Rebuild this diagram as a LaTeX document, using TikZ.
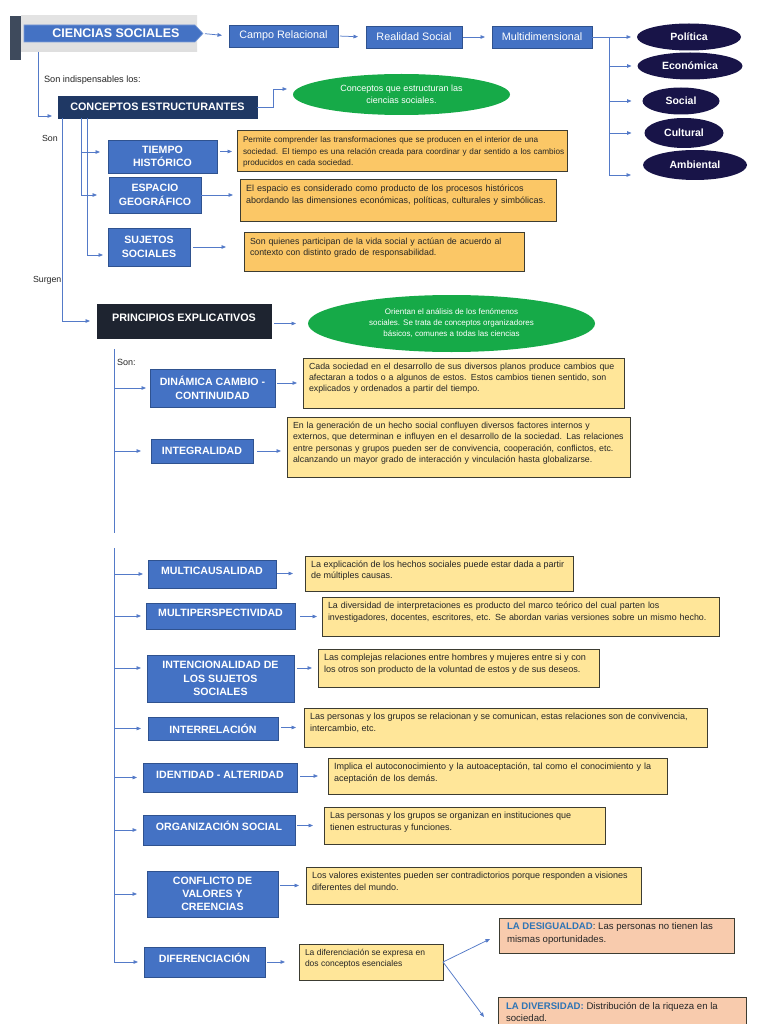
\documentclass[tikz,border=0pt]{standalone}
\usepackage{fontspec}
\setmainfont{Liberation Sans}
\usetikzlibrary{arrows.meta,calc,shapes.geometric}
\definecolor{bxblue}{RGB}{68,114,196}
\definecolor{bxblueb}{RGB}{47,82,143}
\definecolor{connc}{RGB}{84,122,200}
\definecolor{navyb}{RGB}{31,56,100}
\definecolor{nearblack}{RGB}{30,36,48}
\definecolor{ellnavy}{RGB}{24,20,72}
\definecolor{grn}{RGB}{22,170,72}
\definecolor{orng}{RGB}{251,199,102}
\definecolor{ylw}{RGB}{255,230,153}
\definecolor{peach}{RGB}{248,203,173}
\definecolor{tborder}{RGB}{60,60,50}
\definecolor{lblue}{RGB}{46,116,181}
\definecolor{darkbar}{RGB}{62,74,92}
\newcommand{\jline}[1]{\makebox[\linewidth][s]{#1}}
\begin{document}
\begin{tikzpicture}[x=1pt,y=-1pt,
  every node/.style={inner sep=0pt, outer sep=0pt},
  sz/.style 2 args={minimum width=#1pt, minimum height=#2pt, anchor=north west},
  ttl/.style={fill=bxblue, draw=bxblueb, line width=0.6pt, text=white, font=\fontsize{10.6}{13.3}\selectfont\bfseries, align=center},
  one/.style={text height=7.6pt, text depth=6pt},
  toprow/.style={fill=bxblue, draw=bxblueb, line width=0.6pt, text=white, font=\fontsize{10.8}{12}\selectfont},
  tbox/.style={draw=tborder, line width=1pt},
  ob/.style={tbox, fill=orng},
  yb/.style={tbox, fill=ylw},
  pb/.style={tbox, fill=peach},
  txt/.style 2 args={anchor=north west, inner xsep=6pt, inner ysep=5pt, align=left, text=black!85, font=\fontsize{#1}{#2}\selectfont},
  ell/.style={ellipse, fill=ellnavy, text=white, font=\fontsize{10.5}{12}\selectfont\bfseries},
  gell/.style={ellipse, fill=grn, text=white, align=center},
  ln/.style={draw=connc, line width=0.75pt},
  arr/.style={ln, -{Triangle[length=4.5pt,width=3.6pt]}},
  lab/.style={font=\fontsize{8.8}{11}\selectfont, text=black!85, anchor=west},
]
\useasboundingbox (0,0) rectangle (768,1024);
\fill[white] (0,0) rectangle (768,1024);

% ---- header ----
\fill[darkbar] (10,16) rectangle (21,60);
\node[sz={176}{36}, top color=gray!22, middle color=gray!6, bottom color=gray!25] (cbg) at (21,16) {};
\filldraw[fill=bxblue, draw=bxblue!70!white, line width=0.6pt] (24,25) -- (195,25) -- (203,33.5) -- (195,42) -- (24,42) -- cycle;
\node[font=\fontsize{12.5}{14}\selectfont\bfseries, text=white, minimum width=179pt, minimum height=17pt] (ciencias) at (113.5,33.5) {\hspace*{5pt}CIENCIAS SOCIALES};

\node[toprow, sz={109}{22}] (campo) at (229,25) {Campo Relacional};
\node[toprow, sz={96}{22}] (realidad) at (366,26) {Realidad Social};
\node[toprow, sz={100}{22}] (multi) at (492,26) {Multidimensional};

\node[ell, minimum width=104pt, minimum height=27pt] (politica) at (689,37) {Política};
\node[ell, minimum width=105pt, minimum height=27pt] (economica) at (690,66) {Económica};
\node[ell, minimum width=77pt, minimum height=27pt] (social) at (681,101) {Social};
\node[ell, minimum width=79pt, minimum height=30pt] (cultural) at (684,133) {Cultural};
\node[ell, minimum width=104pt, minimum height=30pt] (ambiental) at (695,165) {Ambiental};

\draw[arr, shorten <=2pt, shorten >=7pt] (ciencias.east) -- (campo.west);
\draw[arr, shorten <=2pt, shorten >=8pt] (campo.east) -- (realidad.west);
\draw[arr, shorten <=1pt, shorten >=7pt] (realidad.east) -- (multi.west);

\coordinate (br) at (609,37);
\coordinate (ambin) at ($(ambiental.west)+(0,10)$);
\draw[arr, shorten >=6pt] (multi.east) -- (politica.west);
\draw[ln] (br) -- (br |- ambin);
\draw[arr, shorten >=6pt] (br |- economica.west) -- (economica.west);
\draw[arr, shorten >=11pt] (br |- social.west) -- (social.west);
\draw[arr, shorten >=13pt] (br |- cultural.west) -- (cultural.west);
\draw[arr, shorten >=12pt] (br |- ambin) -- (ambin);

% ---- conceptos estructurantes ----
\node[lab, font=\fontsize{9.2}{11}\selectfont] (lsonind) at (44,80) {Son indispensables los:};
\node[sz={199}{22}, fill=navyb, draw=navyb, text=white, font=\fontsize{10.8}{12}\selectfont\bfseries] (conceptos) at (58,96) {CONCEPTOS ESTRUCTURANTES};
\node[gell, minimum width=217pt, minimum height=41pt, font=\fontsize{9}{11.5}\selectfont] (green1) at (401.5,94.5) {Conceptos que estructuran las\\ciencias sociales.};

\coordinate (cdown) at ($(cbg.south west)+(17,0)$);
\draw[arr, shorten >=6pt] (cdown) |- ($(conceptos.west)+(0,9)$);
\draw[arr, shorten >=6pt] (conceptos.east) -- ++(16,0) |- ($(green1.west)+(0,-5.5)$);

\node[lab] (lson) at (42,138) {Son};
\node[lab] (lsurgen) at (33,280) {Surgen};

\node[ttl, sz={109}{33}] (tiempo) at (108,140) {TIEMPO\\HISTÓRICO};
\node[ttl, sz={92}{36}] (espacio) at (109,177) {ESPACIO\\GEOGRÁFICO};
\node[ttl, sz={82}{38}] (sujetos) at (108,228) {SUJETOS\\SOCIALES};

\node[ob, sz={330}{41}] (t1) at (237,131) {};
\node[txt={8.2}{11.2}, inner ysep=6pt, text width=320pt] (t1x) at (t1.north west) {\jline{Permite comprender las transformaciones que se producen en el interior de una}\\\jline{sociedad. El tiempo es una relación creada para coordinar y dar sentido a los cambios}\\\mbox{producidos en cada sociedad.}};
\node[ob, sz={316}{42}] (t2) at (240,180) {};
\node[txt={9}{11.7}, text width=305pt] (t2x) at (t2.north west) {\jline{El espacio es considerado como producto de los procesos históricos}\\\mbox{abordando las dimensiones económicas, políticas, culturales y simbólicas.}};
\node[ob, sz={280}{38}] (t3) at (244,233) {};
\node[txt={8.8}{11.5}, text width=263pt] (t3x) at (t3.north west) {\jline{Son quienes participan de la vida social y actúan de acuerdo al}\\\mbox{contexto con distinto grado de responsabilidad.}};

\coordinate (v1) at ($(conceptos.south west)+(4,0)$);
\coordinate (v2) at ($(conceptos.south west)+(23,0)$);
\coordinate (v3) at ($(conceptos.south west)+(29,0)$);
\draw[arr, shorten >=8pt] (v2) |- ($(tiempo.west)+(0,-4.5)$);
\draw[arr, shorten >=12pt] (v2) |- (espacio.west);
\draw[arr, shorten >=5pt] (v3) |- ($(sujetos.west)+(0,8)$);
\draw[arr, shorten <=3pt, shorten >=5pt] (tiempo.east |- t1.west) -- (t1.west);
\draw[arr, shorten >=7pt] (espacio.east) -- (espacio.east -| t2.west);
\draw[arr, shorten <=3pt, shorten >=18pt] (sujetos.east) -- (sujetos.east -| t3.west);

% ---- principios explicativos ----
\node[sz={174}{34}, fill=nearblack, draw=nearblack, text=white, font=\fontsize{10.8}{12}\selectfont\bfseries, one] (principios) at (97,304) {PRINCIPIOS EXPLICATIVOS};
\node[gell, minimum width=287pt, minimum height=57pt, font=\fontsize{8}{11}\selectfont] (green2) at (451.5,323.5) {Orientan el análisis de los fenómenos\\sociales. Se trata de conceptos organizadores\\básicos, comunes a todas las ciencias};
\draw[arr, shorten >=7pt] (v1) |- (principios.west);
\draw[arr, shorten <=3pt, shorten >=12pt] (principios.east |- green2.west) -- (green2.west);

\node[lab, font=\fontsize{9}{11}\selectfont] (lson2) at (117,362) {Son:};
\coordinate (s1a) at (114,349);
\coordinate (s1b) at (114,533);
\draw[ln] (s1a) -- (s1b);

\node[ttl, sz={125}{38}] (din) at (150,369) {DINÁMICA CAMBIO -\\CONTINUIDAD};
\node[ttl, sz={102}{24}] (integ) at (151,439) {INTEGRALIDAD};
\node[yb, sz={321}{50}] (tdin) at (303,358) {};
\node[txt={8.8}{11.2}, text width=308pt] (tdinx) at (tdin.north west) {\jline{Cada sociedad en el desarrollo de sus diversos planos produce cambios que}\\\jline{afectaran a todos o a algunos de estos. Estos cambios tienen sentido, son}\\\mbox{explicados y ordenados a partir del tiempo.}};
\node[yb, sz={343}{60}] (tint) at (287,417) {};
\node[txt={8.8}{11.4}, text width=331pt] (tintx) at (tint.north west) {\jline{En la generación de un hecho social confluyen diversos factores internos y}\\\jline{externos, que determinan e influyen en el desarrollo de la sociedad. Las relaciones}\\\jline{entre personas y grupos pueden ser de convivencia, cooperación, conflictos, etc.}\\\mbox{alcanzando un mayor grado de interacción y vinculación hasta globalizarse.}};

\draw[arr, shorten >=4pt] (s1a |- din.west) -- (din.west);
\draw[arr, shorten >=10pt] (s1a |- integ.west) -- (integ.west);
\draw[arr, shorten <=2pt, shorten >=6pt] (din.east |- tdin.west) -- (tdin.west);
\draw[arr, shorten <=4pt, shorten >=6pt] (integ.east) -- (integ.east -| tint.west);

% ---- second column ----
\node[ttl, sz={128}{28}, one] (multic) at (148,560) {MULTICAUSALIDAD};
\node[ttl, sz={149}{26}, one] (multip) at (146,603) {MULTIPERSPECTIVIDAD};
\node[ttl, sz={147}{47}] (intenc) at (147,655) {INTENCIONALIDAD DE\\LOS SUJETOS\\SOCIALES};
\node[ttl, sz={130}{23}] (interr) at (148,717) {INTERRELACIÓN};
\node[ttl, sz={154}{29}, one] (ident) at (143,763) {IDENTIDAD - ALTERIDAD};
\node[ttl, sz={152}{30}, one] (organ) at (143,815) {ORGANIZACIÓN SOCIAL};
\node[ttl, sz={131}{46}] (confl) at (147,871) {CONFLICTO DE\\VALORES Y\\CREENCIAS};
\node[ttl, sz={121}{30}, one] (difer) at (144,947) {DIFERENCIACIÓN};

\node[yb, sz={268}{35}] (tmc) at (305,556) {};
\node[txt={9}{11.2}] (tmcx) at (tmc.north west) {La explicación de los hechos sociales puede estar dada a partir\\de múltiples causas.};
\node[yb, sz={397}{39}] (tmp) at (322,597) {};
\node[txt={8.9}{12}, text width=384pt] (tmpx) at (tmp.north west) {\jline{La diversidad de interpretaciones es producto del marco teórico del cual parten los}\\\mbox{investigadores, docentes, escritores, etc. Se abordan varias versiones sobre un mismo hecho.}};
\node[yb, sz={281}{38}] (tin) at (318,649) {};
\node[txt={9.1}{11.5}] (tinx) at (tin.north west) {Las complejas relaciones entre hombres y mujeres entre si y con\\los otros son producto de la voluntad de estos y de sus deseos.};
\node[yb, sz={403}{39}] (tir) at (304,708) {};
\node[txt={9}{11.5}] (tirx) at (tir.north west) {Las personas y los grupos se relacionan y se comunican, estas relaciones son de convivencia,\\intercambio, etc.};
\node[yb, sz={339}{36}] (tid) at (328,758) {};
\node[txt={9}{12}, text width=326pt] (tidx) at (tid.north west) {\jline{Implica el autoconocimiento y la autoaceptación, tal como el conocimiento y la}\\\mbox{aceptación de los demás.}};
\node[yb, sz={281}{37}] (tos) at (324,807) {};
\node[txt={9}{11.5}] (tosx) at (tos.north west) {Las personas y los grupos se organizan en instituciones que\\tienen estructuras y funciones.};
\node[yb, sz={335}{37}] (tcf) at (306,867) {};
\node[txt={9}{12}] (tcfx) at (tcf.north west) {Los valores existentes pueden ser contradictorios porque responden a visiones\\diferentes del mundo.};
\node[yb, sz={144}{36}] (tdf) at (299,944) {};
\node[txt={8.5}{11}] (tdfx) at (tdf.north west) {La diferenciación se expresa en\\dos conceptos esenciales};
\node[pb, sz={235}{35}] (tdes) at (499,918) {};
\node[txt={9.6}{12.3}, inner xsep=8pt] (tdesx) at (tdes.north west) {\textcolor{lblue}{\textbf{LA DESIGUALDAD}}: Las personas no tienen las\\mismas oportunidades.};
\node[pb, sz={248}{35}] (tdiv) at (498,997) {};
\node[txt={9.6}{12.3}, inner xsep=8pt] (tdivx) at (tdiv.north west) {\textcolor{lblue}{\textbf{LA DIVERSIDAD:}} Distribución de la riqueza en la\\sociedad.};

\coordinate (s2a) at (114,548);
\draw[ln] (s2a) -- (s2a |- difer.west);
\draw[arr, shorten >=5pt] (s2a |- multic.west) -- (multic.west);
\draw[arr, shorten >=5pt] (s2a |- multip.west) -- (multip.west);
\draw[arr, shorten >=6pt] (s2a |- tin.west) -- (intenc.west |- tin.west);
\draw[arr, shorten >=7pt] (s2a |- interr.west) -- (interr.west);
\draw[arr, shorten >=6pt] (s2a |- ident.west) -- (ident.west);
\draw[arr, shorten >=6pt] (s2a |- organ.west) -- (organ.west);
\draw[arr, shorten >=10pt] (s2a |- confl.west) -- (confl.west);
\draw[arr, shorten >=6pt] (s2a |- difer.west) -- (difer.west);

\draw[arr, shorten <=1pt, shorten >=12pt] (multic.east |- tmc.west) -- (tmc.west);
\draw[arr, shorten <=5pt, shorten >=5pt] (multip.east |- tmp.west) -- (tmp.west);
\draw[arr, shorten <=3pt, shorten >=6pt] (intenc.east |- tin.west) -- (tin.west);
\draw[arr, shorten <=3pt, shorten >=8pt] (interr.east |- tir.west) -- (tir.west);
\draw[arr, shorten <=3pt, shorten >=10pt] (ident.east |- tid.west) -- (tid.west);
\draw[arr, shorten <=2pt, shorten >=11pt] (organ.east |- tos.west) -- (tos.west);
\draw[arr, shorten <=2pt, shorten >=7pt] (confl.east |- tcf.west) -- (tcf.west);
\draw[arr, shorten <=2pt, shorten >=14pt] (difer.east |- tdf.west) -- (tdf.west);

\coordinate (desin) at ($(tdes.west)+(-9,3.5)$);
\coordinate (divin) at ($(tdiv.north west)+(-14,20)$);
\draw[arr] (tdf.east) -- (desin);
\draw[arr] (tdf.east) -- (divin);
\end{tikzpicture}
\end{document}
